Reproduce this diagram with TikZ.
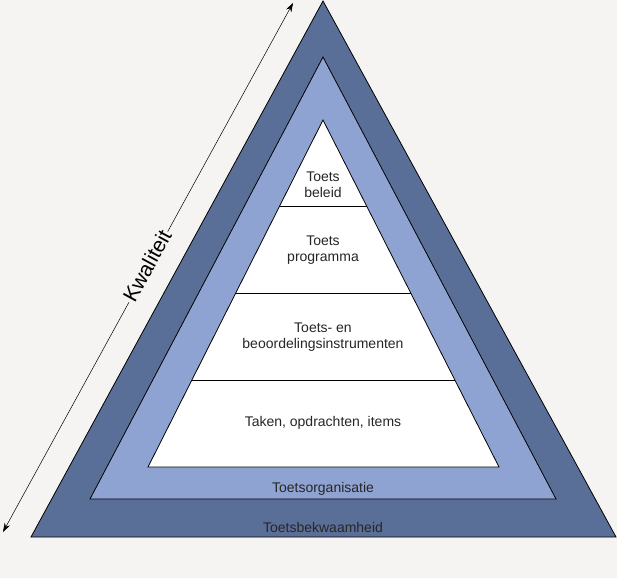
\documentclass[tikz,border=0pt]{standalone}
\usepackage{fontspec}
\setmainfont{Liberation Sans}
\usetikzlibrary{arrows.meta}
\begin{document}
\begin{tikzpicture}[x=1pt,y=-1pt,
  band/.style={draw=black,line width=0.8pt},
  lbl/.style={font=\fontsize{14}{16}\selectfont,align=center,text=black!85}]
\definecolor{bg}{HTML}{F5F4F2}
\definecolor{dark}{HTML}{5A6F97}
\definecolor{light}{HTML}{8FA3D3}
\useasboundingbox[fill=bg] (0,0) rectangle (617,578);
\fill[band,fill=dark] (323,1) -- (616,537) -- (31,537) -- cycle;
\fill[band,fill=light] (323,57) -- (556,499) -- (90,499) -- cycle;
\fill[band,fill=white] (323,120) -- (499,467) -- (148,467) -- cycle;
\draw[line width=0.6pt] (279,206) -- (367,206);
\draw[line width=0.6pt] (235,293) -- (411,293);
\draw[line width=0.6pt] (191,380) -- (455,380);
\node[lbl] (b) at (323,185) {Toets\\beleid};
\node[lbl] (p) at (323,250) {Toets\\programma};
\node[lbl] (i) at (323,337) {Toets- en\\beoordelingsinstrumenten};
\node[lbl] (t) at (323,423) {Taken, opdrachten, items};
\node[lbl] (o) at (323,489) {Toetsorganisatie};
\node[lbl] (k) at (323,527) {Toetsbekwaamheid};
\coordinate (a1) at (3,532);
\coordinate (a2) at (293,3);
\draw[{Stealth[length=9pt,width=6pt]}-{Stealth[length=9pt,width=6pt]},line width=0.5pt] (a1) -- (a2);
\node[font=\fontsize{21}{23}\selectfont,rotate=61.3,fill=bg,inner sep=1pt] (kw) at (147,266) {Kwaliteit};
\end{tikzpicture}
\end{document}
